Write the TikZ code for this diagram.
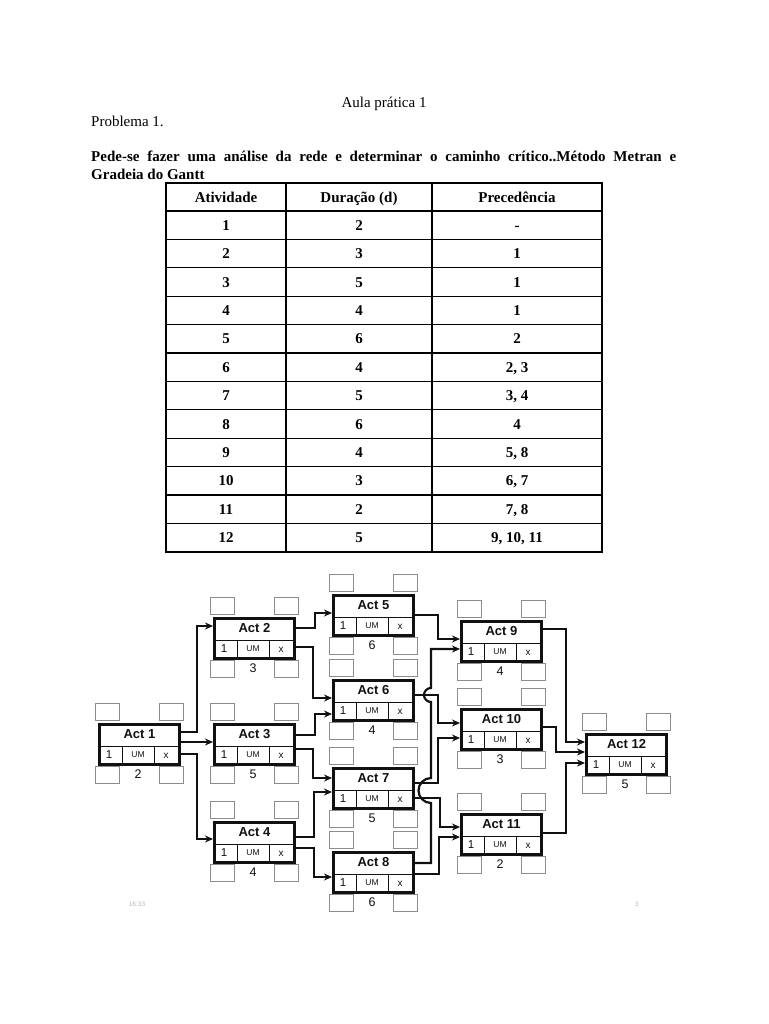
\documentclass[tikz,border=0pt]{standalone}
\usepackage{fontspec}
\setmainfont{Liberation Serif}
\newfontfamily\netfont{Liberation Sans}
\usetikzlibrary{arrows.meta,calc}
\definecolor{NetInk}{HTML}{111111}
\definecolor{NetSlot}{HTML}{8C8C8C}
\definecolor{NetFoot}{HTML}{B8B8B8}
\tikzset{
  flow/.style={-{Stealth[length=8pt,width=7pt]},NetInk,line width=2.2pt},
  actbox/.style={draw=NetInk,line width=3pt,minimum width=80pt,minimum height=40pt,
                 anchor=north west,inner sep=0pt},
  celldiv/.style={NetInk,line width=1pt},
  slot/.style={draw=NetSlot,line width=1pt,minimum width=24pt,minimum height=17pt,
               anchor=north west,inner sep=0pt},
  acthead/.style={font=\netfont\fontsize{13}{15}\selectfont\bfseries,text=NetInk},
  cellnum/.style={font=\netfont\fontsize{11.5}{13}\selectfont,text=NetInk},
  cellx/.style={font=\netfont\fontsize{10}{12}\selectfont,text=NetInk},
  cellum/.style={font=\netfont\fontsize{8.5}{10}\selectfont,text=NetInk},
  durlabel/.style={font=\netfont\fontsize{12.5}{14}\selectfont,text=NetInk},
  bodytext/.style={font=\fontsize{15}{19}\selectfont,text=black,inner sep=0pt},
  tabtext/.style={font=\fontsize{15}{18}\selectfont\bfseries,text=black,inner sep=0pt,anchor=base},
  tabline/.style={black,line width=1.1pt},
  foot/.style={font=\netfont\fontsize{6.5}{8}\selectfont,text=NetFoot},
}

\begin{document}
\begin{tikzpicture}[x=1pt,y=-1pt]
    \fill[white] (0,0) rectangle (768,1024);
    \useasboundingbox (0,0) rectangle (768,1024);

    % heading
    \node[bodytext,anchor=base] (title) at (384,108) {Aula prática 1};
    \node[bodytext,anchor=base west] (prob) at (91,127) {Problema 1.};
    \node[bodytext,anchor=base west,font=\fontsize{15}{19}\selectfont\bfseries] (task1) at (91,162)
      {\makebox[585pt][s]{Pede-se fazer uma análise da rede e determinar o caminho crítico..Método Metran e}};
    \node[bodytext,anchor=base west,font=\fontsize{15}{19}\selectfont\bfseries] (task2) at (91,180)
      {Gradeia do Gantt};

    % table
    \draw[tabline] (166,183) rectangle (602,552);
    \foreach \k in {0,...,11}
      \draw[tabline] (166,{211+\k*28.4}) -- (602,{211+\k*28.4});
    \draw[tabline] (286,183) -- (286,552);
    \draw[tabline] (432,183) -- (432,552);
    \node[tabtext] (hativ) at (226,203) {Atividade};
    \node[tabtext] (hdura) at (359,203) {Duração (d)};
    \node[tabtext] (hprec) at (517,203) {Precedência};
    \foreach \ativ/\dura/\prec [count=\i] in {1/2/-, 2/3/1, 3/5/1, 4/4/1, 5/6/2, 6/4/{2, 3},
        7/5/{3, 4}, 8/6/4, 9/4/{5, 8}, 10/3/{6, 7}, 11/2/{7, 8}, 12/5/{9, 10, 11}}{
      \node[tabtext] (ta\i) at (226,{211+(\i-0.5)*28.4+5}) {\ativ};
      \node[tabtext] (td\i) at (359,{211+(\i-0.5)*28.4+5}) {\dura};
      \node[tabtext] (tp\i) at (517,{211+(\i-0.5)*28.4+5}) {\prec};
    }

    % network
    \foreach \n/\px/\py/\dur in {1/98/723/2, 2/213/617/3, 3/213/723/5, 4/213/821/4,
        5/332/594/6, 6/332/679/4, 7/332/767/5, 8/332/851/6,
        9/460/620/4, 10/460/708/3, 11/460/813/2, 12/585/733/5}{
      \node[actbox] (act\n) at (\px,\py) {};
      \draw[celldiv] ($(act\n.north west)+(0,23)$) -- ($(act\n.north east)+(0,23)$);
      \draw[celldiv] ($(act\n.north west)+(24,23)$) -- ($(act\n.south west)+(24,0)$);
      \draw[celldiv] ($(act\n.north west)+(56,23)$) -- ($(act\n.south west)+(56,0)$);
      \node[acthead] (head\n) at ($(act\n.north)+(0,11.5)$) {Act \n};
      \node[cellnum] (one\n) at ($(act\n.north west)+(11,32)$) {1};
      \node[cellum] (um\n) at ($(act\n.north west)+(40,32)$) {UM};
      \node[cellx] (x\n) at ($(act\n.north west)+(68,32.5)$) {x};
      \node[slot] (es\n) at (\px-3,\py-20) {};
      \node[slot] (ef\n) at (\px+61,\py-20) {};
      \node[slot] (ls\n) at (\px-3,\py+43) {};
      \node[slot] (lf\n) at (\px+61,\py+43) {};
      \node[durlabel] (dur\n) at (\px+40,\py+51) {\dur};
    }

    \draw[flow] ($(act1.north east)+(0,9)$) -- ++(16,0) |- ($(act2.north west)+(0,9)$);
    \draw[flow] ($(act1.north east)+(0,19)$) -- ($(act3.north west)+(0,19)$);
    \draw[flow] ($(act1.north east)+(0,31)$) -- ++(16,0) |- ($(act4.north west)+(0,18)$);
    \draw[flow] ($(act2.north east)+(0,11)$) -- ++(19,0) |- ($(act5.north west)+(0,19)$);
    \draw[flow] ($(act2.north east)+(0,30)$) -- ++(17,0) |- ($(act6.north west)+(0,19)$);
    \draw[flow] ($(act3.north east)+(0,12)$) -- ++(19,0) |- ($(act6.north west)+(0,35)$);
    \draw[flow] ($(act3.north east)+(0,26)$) -- ++(17,0) |- ($(act7.north west)+(0,11)$);
    \draw[flow] ($(act4.north east)+(0,16)$) -- ++(18,0) |- ($(act7.north west)+(0,25)$);
    \draw[flow] ($(act4.north east)+(0,27)$) -- ++(18,0) |- ($(act8.north west)+(0,26)$);

    \draw[flow] ($(act5.north east)+(0,21)$) -- ++(23,0) |- ($(act9.north west)+(0,19)$);
    \draw[flow] ($(act6.north east)+(0,16)$) -- ++(23,0) |- ($(act10.north west)+(0,15)$);
    \draw[flow] ($(act7.north east)+(0,16)$) -- ++(23,0) |- ($(act10.north west)+(0,30)$);
    \draw[flow] ($(act7.north east)+(0,31)$) -- ++(25,0) |- ($(act11.north west)+(0,14)$);
    \draw[flow] ($(act8.north east)+(0,23)$) -- ++(24,0) |- ($(act11.north west)+(0,24)$);
    \draw[flow] ($(act8.north east)+(0,12)$) -- ++(16,0) -- ++(0,-60)
      arc[start angle=90,end angle=270,radius=12.5] -- ++(0,-76)
      arc[start angle=90,end angle=270,radius=7] |- ($(act9.north west)+(0,29)$);

    \draw[flow] ($(act9.north east)+(0,9)$) -- ++(23,0) |- ($(act12.north west)+(0,9)$);
    \draw[flow] ($(act10.north east)+(0,19)$) -- ++(13,0) |- ($(act12.north west)+(0,19)$);
    \draw[flow] ($(act11.north east)+(0,20)$) -- ++(23,0) |- ($(act12.north west)+(0,30)$);

    % footer
    \node[foot] (ftime) at (137,904) {16:33};
    \node[foot] (fpage) at (637,904) {3};
  \end{tikzpicture}
\end{document}
